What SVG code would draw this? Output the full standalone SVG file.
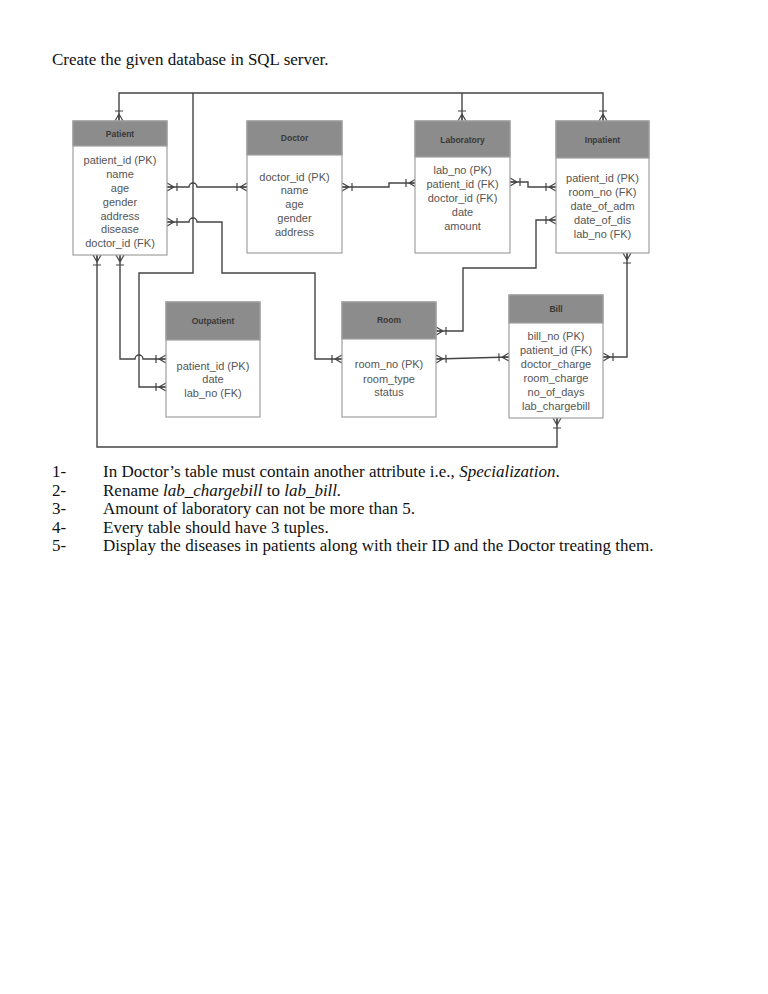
<svg xmlns="http://www.w3.org/2000/svg" width="768" height="994" viewBox="0 0 768 994">
<style>
.doc{font-family:"Liberation Serif","Times New Roman",serif;font-size:17px;fill:#111}
.box{fill:#fff;stroke:#a0a0a0;stroke-width:1.2}
.hdr{fill:#8c8c8c;stroke:#a0a0a0;stroke-width:1.2}
.ht{font-family:"Liberation Sans",Arial,sans-serif;font-size:8.5px;font-weight:bold;fill:#383838;text-anchor:middle}
.at{font-family:"Liberation Sans",Arial,sans-serif;font-size:11px;fill:#555;text-anchor:middle}
.cn path{fill:none;stroke:#444;stroke-width:1.4}
.m{marker-start:url(#cf);marker-end:url(#cf)}
.e{marker-end:url(#cf)}
</style>
<defs>
<marker id="cf" markerUnits="userSpaceOnUse" markerWidth="14" markerHeight="12" viewBox="-12 -6 14 12" refX="0" refY="0" orient="auto-start-reverse" overflow="visible">
<path d="M-7 0 L0 -4 M-7 0 L0 0 M-7 0 L0 4 M-10 -4 V4" fill="none" stroke="#444" stroke-width="1.2"/>
</marker>
</defs>
<rect width="768" height="994" fill="#fff"/>
<text class="doc" x="52" y="65">Create the given database in SQL server.</text>

<g class="cn" id="connectors">
<path class="m" d="M119 121 V93 H603 V121"/>
<path class="e" d="M462 93 V121"/>
<path class="e" d="M193 93 V273 H139 V387 H166"/>
<path class="m" d="M167 187 H189 A4 4 0 0 1 197 187 H247"/>
<path class="m" d="M167 222 H189 A4 4 0 0 1 197 222 H222 V273 H315 V359 H342"/>
<path class="m" d="M342 187 H389 V183 H416"/>
<path class="m" d="M510 182 H528 V187 H556"/>
<path class="m" d="M556 220 H536 V268 H463 V331 H436"/>
<path class="m" d="M436 359 L509 357"/>
<path class="m" d="M627 253 V357 H603"/>
<path class="m" d="M97 255 V447 H557 V418"/>
<path class="m" d="M120 255 V359 H135 A4 4 0 0 1 143 359 H166"/>
</g>

<g id="patient">
<rect class="box" x="73" y="121" width="94" height="134"/>
<rect class="hdr" x="73" y="121" width="94" height="25"/>
<text class="ht" x="120" y="137">Patient</text>
<text class="at" x="120" y="164">patient_id (PK)</text>
<text class="at" x="120" y="178">name</text>
<text class="at" x="120" y="192">age</text>
<text class="at" x="120" y="206">gender</text>
<text class="at" x="120" y="220">address</text>
<text class="at" x="120" y="233">disease</text>
<text class="at" x="120" y="247">doctor_id (FK)</text>
</g>

<g id="doctor">
<rect class="box" x="247" y="121" width="95" height="132"/>
<rect class="hdr" x="247" y="121" width="95" height="34"/>
<text class="ht" x="294.5" y="141">Doctor</text>
<text class="at" x="294.5" y="181">doctor_id (PK)</text>
<text class="at" x="294.5" y="194">name</text>
<text class="at" x="294.5" y="208">age</text>
<text class="at" x="294.5" y="222">gender</text>
<text class="at" x="294.5" y="236">address</text>
</g>

<g id="laboratory">
<rect class="box" x="415" y="121" width="95" height="132"/>
<rect class="hdr" x="415" y="121" width="95" height="36"/>
<text class="ht" x="462.5" y="143">Laboratory</text>
<text class="at" x="462.5" y="174">lab_no (PK)</text>
<text class="at" x="462.5" y="188">patient_id (FK)</text>
<text class="at" x="462.5" y="202">doctor_id (FK)</text>
<text class="at" x="462.5" y="216">date</text>
<text class="at" x="462.5" y="230">amount</text>
</g>

<g id="inpatient">
<rect class="box" x="556" y="121" width="93" height="132"/>
<rect class="hdr" x="556" y="121" width="93" height="37"/>
<text class="ht" x="602.5" y="143">Inpatient</text>
<text class="at" x="602.5" y="182">patient_id (PK)</text>
<text class="at" x="602.5" y="196">room_no (FK)</text>
<text class="at" x="602.5" y="210">date_of_adm</text>
<text class="at" x="602.5" y="224">date_of_dis</text>
<text class="at" x="602.5" y="238">lab_no (FK)</text>
</g>

<g id="outpatient">
<rect class="box" x="166" y="302" width="94" height="115"/>
<rect class="hdr" x="166" y="302" width="94" height="38"/>
<text class="ht" x="213" y="324">Outpatient</text>
<text class="at" x="213" y="370">patient_id (PK)</text>
<text class="at" x="213" y="383">date</text>
<text class="at" x="213" y="397">lab_no (FK)</text>
</g>

<g id="room">
<rect class="box" x="342" y="302" width="94" height="115"/>
<rect class="hdr" x="342" y="302" width="94" height="37"/>
<text class="ht" x="389" y="323">Room</text>
<text class="at" x="389" y="368">room_no (PK)</text>
<text class="at" x="389" y="383">room_type</text>
<text class="at" x="389" y="396">status</text>
</g>

<g id="bill">
<rect class="box" x="509" y="295" width="94" height="123"/>
<rect class="hdr" x="509" y="295" width="94" height="28"/>
<text class="ht" x="556" y="312">Bill</text>
<text class="at" x="556" y="340">bill_no (PK)</text>
<text class="at" x="556" y="354">patient_id (FK)</text>
<text class="at" x="556" y="368">doctor_charge</text>
<text class="at" x="556" y="382">room_charge</text>
<text class="at" x="556" y="396">no_of_days</text>
<text class="at" x="556" y="410">lab_chargebill</text>
</g>

<g class="doc">
<text x="52" y="477">1-</text><text x="103" y="477">In Doctor’s table must contain another attribute i.e., <tspan font-style="italic">Specialization</tspan>.</text>
<text x="52" y="495.5">2-</text><text x="103" y="495.5">Rename <tspan font-style="italic">lab_chargebill</tspan> to <tspan font-style="italic">lab_bill.</tspan></text>
<text x="52" y="514">3-</text><text x="103" y="514">Amount of laboratory can not be more than 5.</text>
<text x="52" y="532.5">4-</text><text x="103" y="532.5">Every table should have 3 tuples.</text>
<text x="52" y="551">5-</text><text x="103" y="551">Display the diseases in patients along with their ID and the Doctor treating them.</text>
</g>
</svg>
